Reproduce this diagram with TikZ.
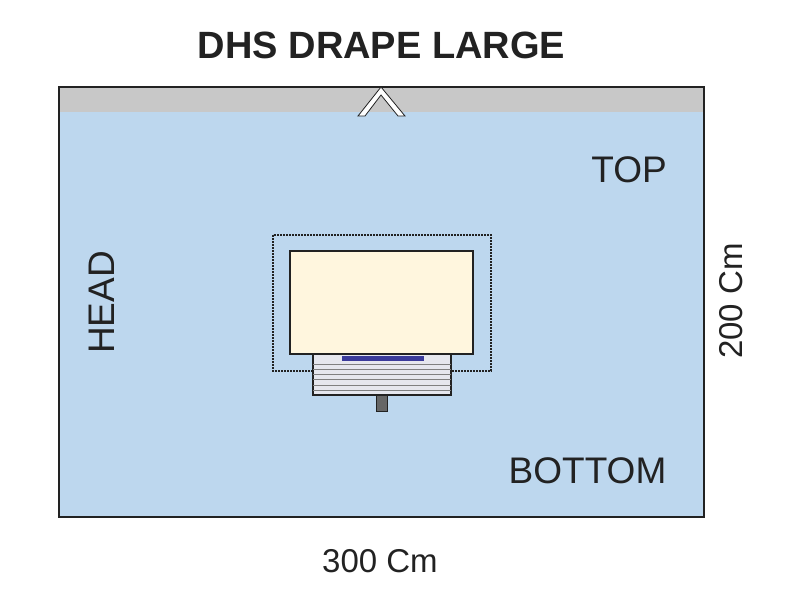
\documentclass[tikz,border=0pt]{standalone}
\usepackage{fontspec}
\setmainfont{Liberation Sans}
\usetikzlibrary{positioning}

\definecolor{drapeblue}{HTML}{BDD7EE}
\definecolor{stripgray}{HTML}{C8C8C8}
\definecolor{padcream}{HTML}{FFF6DE}
\definecolor{pouchgray}{HTML}{E6E7EE}
\definecolor{inkgray}{HTML}{222222}
\definecolor{barblue}{HTML}{3A3A9A}

\begin{document}
\begin{tikzpicture}[x=1pt, y=-1pt,
    outline/.style={draw=inkgray, line width=1.2pt},
    label/.style={text=inkgray, inner sep=0pt, anchor=base, font=\fontsize{37}{40}\selectfont},
    sizelabel/.style={label, font=\fontsize{33}{36}\selectfont}
    ]
    \useasboundingbox (0,0) rectangle (800,600);
    \fill[white] (0,0) rectangle (800,600);
    % Drape
    \fill[drapeblue] (59,87) rectangle (704,517);
    \fill[stripgray] (59,87) rectangle (704,112);
    \draw[outline] (59,87) rectangle (704,517);
    \draw[draw=inkgray, line width=0.8pt, fill=white] (358,116) -- (381,87) -- (405,116) -- (398,116) -- (381,95) -- (365,116) -- cycle;
    % Window
    \draw[inkgray, line width=1.6pt, dash pattern=on 1.6pt off 1.4pt] (273,235) rectangle (491,371);
    \draw[outline, fill=pouchgray] (313,354) rectangle (451,395);
    \foreach \y in {364,369.25,...,391}
      \draw[gray, line width=0.8pt] (313,\y) -- (451,\y);
    \fill[barblue] (342,355.5) rectangle (424,360.5);
    \draw[outline, fill=padcream] (290,251) rectangle (473,354);
    \draw[draw=inkgray, line width=0.8pt, fill=gray!80!black] (376,395) rectangle (387,411);
    % Labels
    \node[label, font=\bfseries\fontsize{38}{40}\selectfont] (title) at (381.5,58) {DHS DRAPE LARGE};
    \node[label] (top) at (629,182) {TOP};
    \node[label] (bottom) at (587.5,483) {BOTTOM};
    \node[label, rotate=90] (head) at (114,302.5) {HEAD};
    \node[sizelabel, rotate=90] (height) at (742,301) {200 Cm};
    \node[sizelabel] (width) at (380,572) {300 Cm};
\end{tikzpicture}
\end{document}
